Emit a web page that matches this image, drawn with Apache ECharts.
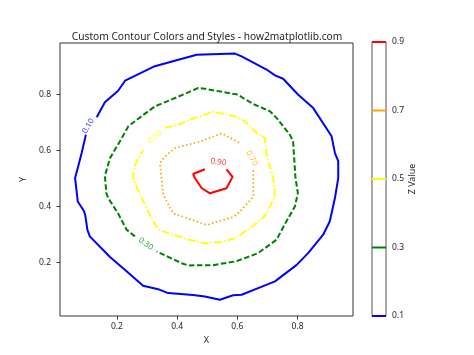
<!DOCTYPE html>
<html><head><meta charset="utf-8">
<script src="https://cdn.jsdelivr.net/npm/echarts@6/dist/echarts.min.js"></script>
<style>html,body{margin:0;padding:0;background:#fff}#c{width:474px;height:355px}</style>
</head><body><div id="c"></div>
<script>
// ---- data ----
const levels = [0.1, 0.3, 0.5, 0.7, 0.9];
const levelLabels = ['0.10', '0.30', '0.50', '0.70', '0.90'];
const xTicks = [0.2, 0.4, 0.6, 0.8];
const yTicks = [0.2, 0.4, 0.6, 0.8];
const xRange = [0.011, 0.984];
const yRange = [0.008, 0.985];

const contour010 = [[0.133,0.719],[0.160,0.773],[0.204,0.814],[0.227,0.850],[0.326,0.902],[0.404,0.925],[0.465,0.943],[0.592,0.947],[0.614,0.937],[0.697,0.890],[0.725,0.869],[0.752,0.857],[0.802,0.800],[0.852,0.752],[0.913,0.651],[0.924,0.591],[0.935,0.562],[0.935,0.502],[0.924,0.430],[0.907,0.347],[0.885,0.299],[0.835,0.233],[0.797,0.191],[0.725,0.132],[0.669,0.108],[0.614,0.084],[0.586,0.082],[0.542,0.066],[0.492,0.078],[0.453,0.083],[0.370,0.090],[0.337,0.104],[0.287,0.116],[0.232,0.168],[0.177,0.219],[0.110,0.293],[0.102,0.316],[0.095,0.368],[0.091,0.383],[0.070,0.418],[0.061,0.502],[0.070,0.538],[0.083,0.591],[0.097,0.657]];
const contour030 = [[0.260,0.293],[0.232,0.317],[0.204,0.375],[0.171,0.430],[0.165,0.448],[0.160,0.509],[0.177,0.573],[0.210,0.633],[0.238,0.687],[0.282,0.723],[0.326,0.758],[0.393,0.788],[0.470,0.824],[0.492,0.821],[0.603,0.800],[0.619,0.788],[0.658,0.764],[0.708,0.741],[0.730,0.717],[0.774,0.657],[0.785,0.633],[0.793,0.502],[0.801,0.448],[0.791,0.400],[0.763,0.347],[0.730,0.281],[0.669,0.233],[0.597,0.204],[0.519,0.190],[0.436,0.189],[0.415,0.197],[0.332,0.239]];
const contour050 = [[0.359,0.681],[0.404,0.693],[0.459,0.717],[0.520,0.739],[0.592,0.723],[0.625,0.705],[0.658,0.669],[0.691,0.645],[0.697,0.585],[0.719,0.502],[0.725,0.436],[0.691,0.365],[0.636,0.317],[0.592,0.287],[0.548,0.273],[0.492,0.268],[0.437,0.281],[0.370,0.305],[0.337,0.317],[0.321,0.347],[0.293,0.406],[0.271,0.454],[0.254,0.502],[0.260,0.548],[0.287,0.602]];
const contour070 = [[0.653,0.530],[0.653,0.435],[0.608,0.381],[0.586,0.362],[0.498,0.334],[0.415,0.365],[0.387,0.375],[0.354,0.441],[0.348,0.502],[0.343,0.555],[0.359,0.578],[0.393,0.609],[0.431,0.620],[0.476,0.632],[0.548,0.662],[0.608,0.627]];
const contour090 = [[0.564,0.533],[0.584,0.506],[0.564,0.465],[0.509,0.447],[0.481,0.466],[0.459,0.502],[0.453,0.516],[0.492,0.533]];
const labelAnchors = [[0.105,0.688],[0.296,0.266],[0.326,0.649],[0.648,0.573],[0.537,0.559]];

// ---- styles ----
const contours = [contour010, contour030, contour050, contour070, contour090];
const colors = ['#0000ff', '#008000', '#ffff00', '#ffa500', '#ff0000'];
const dashes = ['solid', [5.5, 2.5], [8, 2, 1.5, 2], [1.5, 2.5], 'solid'];
const widths = [2, 2, 1.8, 1.8, 2];
const labelAngles = [60, -35, 40, -62, -8];
const FONT = 'Noto Sans';
const textColor = '#262626';
const axisColor = '#333';

const chart = echarts.init(document.getElementById('c'), null, {renderer: 'canvas'});

const series = [];
contours.forEach((c, i) => {
  series.push({
    type: 'line', xAxisIndex: 0, yAxisIndex: 0, data: c,
    symbol: 'none', showSymbol: false, silent: true, animation: false,
    lineStyle: {color: colors[i], width: widths[i], type: dashes[i], cap: 'butt'}
  });
});
series.push({
  type: 'scatter', xAxisIndex: 0, yAxisIndex: 0, symbolSize: 1, silent: true, animation: false,
  itemStyle: {color: 'rgba(0,0,0,0)'},
  data: labelAnchors.map((p, i) => ({
    value: p,
    label: {show: true, position: 'inside', formatter: levelLabels[i], rotate: labelAngles[i],
            color: colors[i], fontSize: 8, fontFamily: FONT}
  }))
});
levels.forEach((lv, i) => {
  series.push({
    type: 'line', xAxisIndex: 1, yAxisIndex: 1, data: [[0, lv], [1, lv]],
    symbol: 'none', showSymbol: false, silent: true, animation: false,
    lineStyle: {color: colors[i], width: 2}
  });
});

chart.setOption({
  backgroundColor: '#fff',
  animation: false,
  title: {
    text: 'Custom Contour Colors and Styles - how2matplotlib.com',
    left: 202, top: 27, textAlign: 'center',
    textStyle: {fontFamily: FONT, fontSize: 10.2, fontWeight: 'normal', color: textColor}
  },
  grid: [
    {left: 60, top: 43, width: 293, height: 273, show: true, borderColor: axisColor, borderWidth: 1, backgroundColor: 'transparent'},
    {left: 372, top: 42, width: 14, height: 274, show: true, borderColor: '#555', borderWidth: 1, backgroundColor: 'transparent'}
  ],
  xAxis: [
    {type: 'value', gridIndex: 0, min: xRange[0], max: xRange[1],
     name: 'X', nameLocation: 'middle', nameGap: 17,
     nameTextStyle: {fontFamily: FONT, fontSize: 9, color: textColor},
     axisLine: {show: false}, splitLine: {show: false},
     axisTick: {show: true, length: 3.5, lineStyle: {color: axisColor}, customValues: xTicks},
     axisLabel: {fontFamily: FONT, fontSize: 8.5, color: textColor, margin: 6, customValues: xTicks,
                 formatter: v => v.toFixed(1)}},
    {type: 'value', gridIndex: 1, min: 0, max: 1, show: false}
  ],
  yAxis: [
    {type: 'value', gridIndex: 0, min: yRange[0], max: yRange[1],
     name: 'Y', nameLocation: 'middle', nameGap: 24,
     nameTextStyle: {fontFamily: FONT, fontSize: 9, color: textColor},
     axisLine: {show: false}, splitLine: {show: false},
     axisTick: {show: true, length: 3.5, lineStyle: {color: axisColor}, customValues: yTicks},
     axisLabel: {fontFamily: FONT, fontSize: 8.5, color: textColor, margin: 9, customValues: yTicks,
                 formatter: v => v.toFixed(1)}},
    {type: 'value', gridIndex: 1, min: levels[0], max: levels[levels.length - 1], position: 'right',
     name: 'Z Value', nameLocation: 'middle', nameGap: 19,
     nameTextStyle: {fontFamily: FONT, fontSize: 9, color: textColor},
     axisLine: {show: false}, splitLine: {show: false},
     axisTick: {show: true, length: 3.5, lineStyle: {color: axisColor}, customValues: levels},
     axisLabel: {fontFamily: FONT, fontSize: 8.5, color: textColor, margin: 6, customValues: levels,
                 formatter: v => v.toFixed(1)}}
  ],
  series: series
});
</script></body></html>
